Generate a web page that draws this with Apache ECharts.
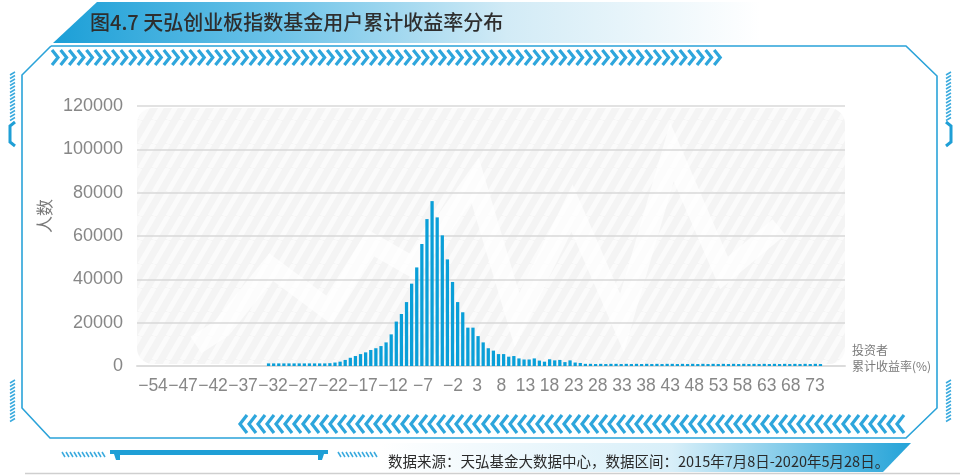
<!DOCTYPE html>
<html><head><meta charset="utf-8">
<script src="https://cdn.jsdelivr.net/npm/echarts@6/dist/echarts.min.js"></script>
<style>html,body{margin:0;padding:0;background:#fff}#c{width:960px;height:475px}</style>
</head><body><div id="c"></div>
<script>
// ---------- data ----------
const returnBins = [-37,-36,-35,-34,-33,-32,-31,-30,-29,-28,-27,-26,-25,-24,-23,-22,-21,-20,-19,-18,
  -17,-16,-15,-14,-13,-12,-11,-10,-9,-8,-7,-6,-5,-4,-3,-2,-1,0,1,2,
  3,4,5,6,7,8,9,10,11,12,13,14,15,16,17,18,19,20,21,22,
  23,24,25,26,27,28,29,30,31,32,33,34,35,36,37,38,39,40,41,42,
  43,44,45,46,47,48,49,50,51,52,53,54,55,56,57,58,59,60,61,62,
  63,64,65,66,67,68,69,70,71];
const investorCounts = [1200,1200,1200,1200,1200,1200,1200,1200,1200,1200,1200,1200,1300,1600,2000,
  2800,3800,4600,5500,6300,7400,8200,9200,10900,14600,20500,24000,29500,38000,45500,
  56300,67800,76100,68600,60300,49200,38800,29500,24800,17700,17700,13800,10900,8200,7100,
  5500,5500,4300,4600,3500,3000,3000,3500,2500,2000,3100,2600,2800,1800,2600,
  1600,1400,1000,1000,900,1000,900,1000,1000,900,1000,900,1000,900,1000,
  900,1000,900,1000,1000,900,1000,900,1000,900,1000,900,1000,900,1000,
  900,1000,900,1000,900,1000,900,1000,900,1000,900,1000,900,1000,900,
  1000,900,1000,900];
const leftTickLabels = ['\u221254','\u221247','\u221242','\u221237','\u221232','\u221227','\u221222','\u221217','\u221212','\u22127'];
const rightTickLabels = ['\u22122','3','8','13','18','23','28','33','38','43','48','53','58','63','68','73'];
const yMax = 120000, yStep = 20000;
const titleText = '图4.7 天弘创业板指数基金用户累计收益率分布';
const sourceText = '数据来源：天弘基金大数据中心，数据区间：2015年7月8日-2020年5月28日。';

// ---------- style helpers ----------
const BLUE = '#0a9fd8';
const GRAY_TXT = '#878787';
const FONT = 'Liberation Sans, Arial, sans-serif';
const CJK = 'Noto Sans CJK SC, sans-serif';

function stripeCanvas(){
  const w = 14, h = 24;
  const c = document.createElement('canvas'); c.width = w; c.height = h;
  const g = c.getContext('2d');
  g.fillStyle = '#f4f4f4'; g.fillRect(0,0,w,h);
  g.strokeStyle = '#fbfbfb'; g.lineWidth = 5;
  for (let k=-1;k<=1;k++){
    g.beginPath(); g.moveTo(k*w, h); g.lineTo(k*w + w, 0); g.stroke();
  }
  return c;
}

function chevrons(x0, x1, yTop, hgt, step, w, dir, color){
  const els = [];
  for (let x = x0; x <= x1; x += step){
    const pts = dir > 0 ? [[x, yTop],[x+w, yTop+hgt/2],[x, yTop+hgt]]
                        : [[x+w, yTop],[x, yTop+hgt/2],[x+w, yTop+hgt]];
    els.push({type:'polyline', silent:true, z:5, shape:{points:pts}, style:{stroke:color, lineWidth:3.2, fill:null}});
  }
  return els;
}
function hatch(x0, y0, x1, y1, step, color, vertical){
  const els = [];
  if (vertical){
    for (let y = y0; y <= y1; y += step)
      els.push({type:'line', silent:true, z:5, shape:{x1:x0, y1:y+3, x2:x1, y2:y}, style:{stroke:color, lineWidth:1.5}});
  } else {
    for (let x = x0; x <= x1; x += step)
      els.push({type:'line', silent:true, z:5, shape:{x1:x, y1:y0, x2:x+3, y2:y1}, style:{stroke:color, lineWidth:1.5}});
  }
  return els;
}

const chart = echarts.init(document.getElementById('c'), null, {renderer:'canvas'});

const graphics = [
  // title banner
  {type:'polygon', silent:true, z:1, shape:{points:[[53,43],[97,2],[960,2],[960,43]]},
   style:{fill:new echarts.graphic.LinearGradient(0,0,1,0,[
     {offset:0,color:'#1b9fd7'},{offset:0.25,color:'#6dc3e8'},{offset:0.5,color:'#d2ebf6'},{offset:0.78,color:'#ffffff'}])}},
  {type:'text', silent:true, z:6, x:90, y:22,
   style:{text:titleText, fill:'#2e2e2e', fontSize:20, fontWeight:500, fontFamily:CJK, textVerticalAlign:'middle'}},
  // frame
  {type:'polyline', silent:true, z:4, shape:{points:[[51,46],[906,46],[937,76],[937,408],[906,438],[50,438],[22,408],[22,75],[51,46]]},
   style:{stroke:'#2aa3d9', lineWidth:1.6, fill:null}},
  // plot background
  {type:'rect', silent:true, z:-5, shape:{x:137, y:108, width:708, height:256, r:16},
   style:{fill:{image:stripeCanvas(), repeat:'repeat'}}},
  // white watermark zigzag
  {type:'polyline', silent:true, z:-4, shape:{points:[[196,345],[222,328],[271,267],[329,310],[371,243],[413,267],[475,180],[517,320],[572,208],[622,323],[672,152],[724,273],[779,227]]},
   style:{stroke:'rgba(255,255,255,0.7)', lineWidth:20, fill:null, lineJoin:'miter'}},
  // y-axis name
  {type:'text', silent:true, z:6, x:45, y:216, rotation:Math.PI/2,
   style:{text:'人数', fill:'#7a7a7a', fontSize:17, fontFamily:CJK, textAlign:'center', textVerticalAlign:'middle'}},
  // x-axis names
  {type:'text', silent:true, z:6, x:852, y:350,
   style:{text:'投资者', fill:'#7a7a7a', fontSize:12, fontFamily:CJK, textVerticalAlign:'middle'}},
  {type:'text', silent:true, z:6, x:852, y:366,
   style:{text:'累计收益率(%)', fill:'#7a7a7a', fontSize:12, fontFamily:CJK, textVerticalAlign:'middle'}},
  // bottom source banner
  {type:'polygon', silent:true, z:1, shape:{points:[[380,443],[911,443],[883,472],[380,472]]},
   style:{fill:new echarts.graphic.LinearGradient(0,0,1,0,[
     {offset:0,color:'rgba(255,255,255,1)'},{offset:0.55,color:'#d8eff9'},{offset:1,color:'#24a3d8'}])}},
  {type:'text', silent:true, z:6, x:388, y:461,
   style:{text:sourceText, fill:'#2a2a2a', fontSize:14.5, fontFamily:CJK, textVerticalAlign:'middle'}},
  // bracket bar bottom-left
  {type:'polygon', silent:true, z:5, shape:{points:[[110,450],[328,450],[328,454],[324,454],[322,460],[318,460],[318,455],[120,455],[120,460],[116,460],[114,454],[110,454]]},
   style:{fill:'#1f9fd6'}},
  // bottom gray line
  {type:'line', silent:true, z:1, shape:{x1:25, y1:473.5, x2:960, y2:473.5}, style:{stroke:'#cfcfcf', lineWidth:1.5}},
  // side brackets
  {type:'polyline', silent:true, z:5, shape:{points:[[15,122],[10,126],[10,142],[15,146]]}, style:{stroke:'#1f9fd6', lineWidth:3, fill:null}},
  {type:'polyline', silent:true, z:5, shape:{points:[[946,122],[951,126],[951,142],[946,146]]}, style:{stroke:'#1f9fd6', lineWidth:3, fill:null}}
]
.concat(chevrons(52, 716, 50, 15, 8.6, 6, 1, '#2ea6dc'))
.concat(chevrons(240, 903, 415, 18, 9, 7, -1, '#2ea6dc'))
.concat(hatch(62, 452, 102, 457, 4, '#3aaade', false))
.concat(hatch(338, 452, 376, 457, 4, '#3aaade', false))
.concat(hatch(10, 72, 15, 118, 3.5, '#3aaade', true))
.concat(hatch(946, 72, 951, 118, 3.5, '#3aaade', true))
.concat(hatch(10, 380, 15, 420, 3.5, '#3aaade', true))
.concat(hatch(946, 380, 951, 420, 3.5, '#3aaade', true));

const hiddenY = (gi) => ({type:'value', gridIndex:gi, min:0, max:yMax, show:false});

chart.setOption({
  animation:false,
  backgroundColor:'#ffffff',
  grid:[
    {left:137, width:708, top:106, height:260},   // frame: y axis + baseline
    {left:266, width:557, top:106, height:260},   // bars
    {left:138, width:300, top:106, height:260},   // left tick labels
    {left:441, width:386, top:106, height:260}    // right tick labels
  ],
  xAxis:[
    {type:'value', gridIndex:0, min:0, max:1, axisLine:{show:true, onZero:false, lineStyle:{color:'#dcdcdc', width:2}},
     axisTick:{show:false}, axisLabel:{show:false}, splitLine:{show:false}},
    {type:'category', gridIndex:1, data:returnBins, show:false},
    {type:'category', gridIndex:2, data:leftTickLabels, axisLine:{show:false}, axisTick:{show:false},
     axisLabel:{interval:0, hideOverlap:false, color:GRAY_TXT, fontSize:17.5, fontFamily:FONT, margin:11}},
    {type:'category', gridIndex:3, data:rightTickLabels, axisLine:{show:false}, axisTick:{show:false},
     axisLabel:{interval:0, hideOverlap:false, color:GRAY_TXT, fontSize:17.5, fontFamily:FONT, margin:11}}
  ],
  yAxis:[
    {type:'value', gridIndex:0, min:0, max:yMax, interval:yStep,
     axisLine:{show:false}, axisTick:{show:false},
     axisLabel:{color:GRAY_TXT, fontSize:18, fontFamily:FONT, margin:14, formatter:(v)=>String(v)},
     splitLine:{show:true, lineStyle:{color:'#d8d8d8', width:1.5}}},
    hiddenY(1), hiddenY(2), hiddenY(3)
  ],
  graphic: graphics,
  series:[{
    type:'bar', xAxisIndex:1, yAxisIndex:1, data:investorCounts,
    barWidth:'64%', itemStyle:{color:BLUE}, silent:true, z:3
  }]
});
</script></body></html>
